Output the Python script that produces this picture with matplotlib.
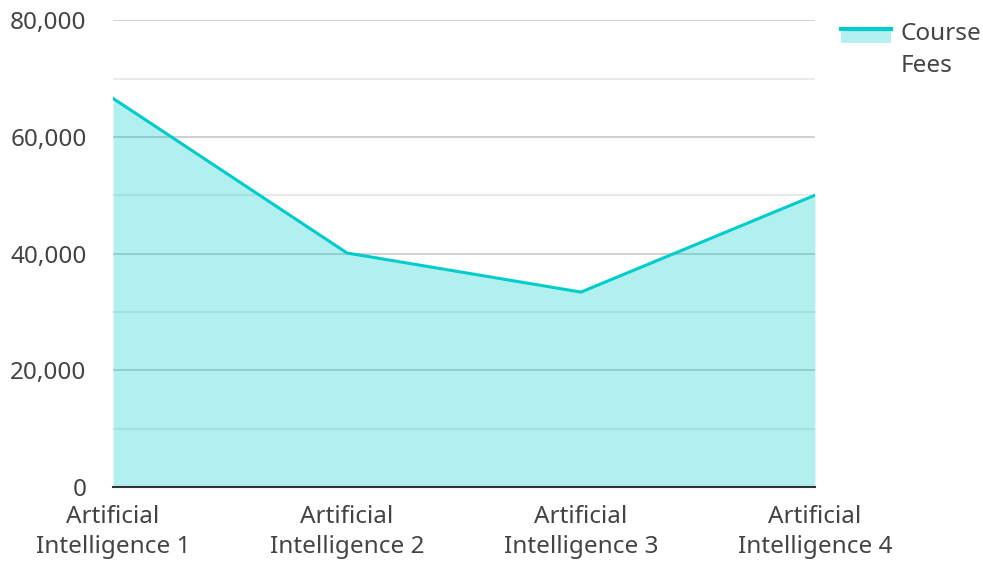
import matplotlib.pyplot as plt
from matplotlib.legend_handler import HandlerBase
from matplotlib.patches import Rectangle
from matplotlib.lines import Line2D
from matplotlib.ticker import FuncFormatter, MultipleLocator

courses = ["Artificial\nIntelligence 1", "Artificial\nIntelligence 2",
           "Artificial\nIntelligence 3", "Artificial\nIntelligence 4"]
fees = [66600, 40100, 33400, 50000]

line_color = "#00cccc"
text_color = "#444444"
fs = 17.5

plt.rcParams['font.family'] = ['Noto Sans', 'DejaVu Sans']


class AreaHandler(HandlerBase):
    # fill patch with the line along its top edge, lifted to the first text line
    def create_artists(self, legend, orig_handle, xd, yd, w, h, fontsize, trans):
        base = yd + h * 1.3
        patch = Rectangle((xd, base), w, h, facecolor=line_color,
                          alpha=0.3, edgecolor="none", transform=trans)
        line = Line2D([xd, xd + w], [base + h, base + h], color=line_color,
                      lw=3, transform=trans)
        return [patch, line]


fig = plt.figure(figsize=(9.83, 5.61), dpi=100)
ax = fig.add_axes([0.115, 0.132, 0.714, 0.832])

x = list(range(len(courses)))
ax.fill_between(x, fees, 0, color=line_color, alpha=0.3, lw=0, zorder=1)
ax.plot(x, fees, color=line_color, lw=2.2, zorder=3)

ax.set_xlim(0, len(courses) - 1)
ax.set_ylim(0, 80000)
ax.yaxis.set_major_locator(MultipleLocator(20000))
ax.yaxis.set_minor_locator(MultipleLocator(10000))
ax.yaxis.set_major_formatter(FuncFormatter(lambda v, p: f"{int(v):,}"))
ax.set_axisbelow(True)
ax.grid(axis="y", which="major", color="#c8c8c8", lw=1.2)
ax.grid(axis="y", which="minor", color="#e6e6e6", lw=1.2)

ax.set_xticks(x)
ax.set_xticklabels(courses)
ax.tick_params(axis="both", which="both", length=0, labelsize=fs,
               labelcolor=text_color)
ax.tick_params(axis="y", pad=19)
ax.tick_params(axis="x", pad=13)
for lbl in ax.get_xticklabels():
    lbl.set_linespacing(1.33)

for side in ["top", "right", "left"]:
    ax.spines[side].set_visible(False)
ax.spines["bottom"].set_color("#333333")
ax.spines["bottom"].set_linewidth(1.5)
ax.spines["bottom"].set_zorder(4)

handle = Rectangle((0, 0), 1, 1)
leg = fig.legend([handle], ["Course\nFees"], handler_map={Rectangle: AreaHandler()},
                 loc="upper left", bbox_to_anchor=(0.833, 0.999), frameon=False,
                 fontsize=fs, handlelength=2.06, handleheight=0.5,
                 handletextpad=0.41, labelcolor=text_color)
for t in leg.get_texts():
    t.set_linespacing(1.42)

fig.savefig("out.png", dpi=100)
